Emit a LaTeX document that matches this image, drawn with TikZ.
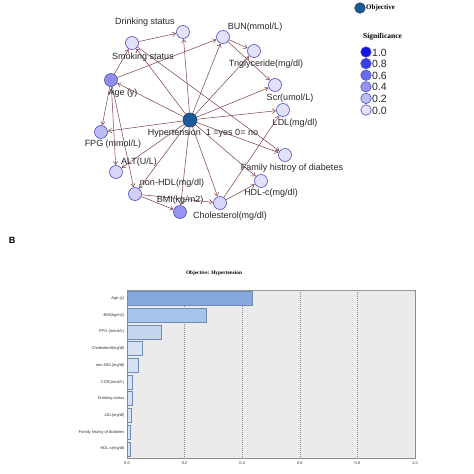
\documentclass[tikz,border=0pt]{standalone}
\usepackage{fontspec}
\setmainfont{Liberation Serif}
\newfontfamily\arialf{Liberation Sans}
\usetikzlibrary{arrows.meta}
\definecolor{edgecol}{HTML}{7B3F45}
\definecolor{nodeline}{HTML}{5050C0}
\definecolor{hubfill}{HTML}{1B5A96}
\definecolor{sigA}{HTML}{1414E6}
\definecolor{sigB}{HTML}{3C3CF0}
\definecolor{sigC}{HTML}{6A6AF0}
\definecolor{sigD}{HTML}{9595F0}
\definecolor{sigE}{HTML}{BCBCF5}
\definecolor{sigF}{HTML}{E2E2FA}
\definecolor{plotbg}{HTML}{EBEBEB}
\definecolor{barline}{HTML}{6F8CB8}
\definecolor{barA}{HTML}{86A9DD}
\definecolor{barB}{HTML}{A8C3EA}
\definecolor{barC}{HTML}{C4D5EF}
\definecolor{barD}{HTML}{D6E1F3}
\tikzset{
  vnode/.style={circle,draw=nodeline,line width=0.6pt,minimum size=13pt,inner sep=0pt},
  hubnode/.style={circle,draw=hubfill!70!black,fill=hubfill,line width=0.6pt,minimum size=14pt,inner sep=0pt},
  lbl/.style={font=\arialf\fontsize{9}{10}\selectfont,inner sep=0pt,text=black!85},
  edge/.style={draw=edgecol,line width=0.5pt,-{Straight Barb[length=3.2pt,width=4.5pt]},shorten >=0.3pt},
  legc/.style={circle,draw=nodeline,line width=0.6pt,minimum size=10.5pt,inner sep=0pt},
  legt/.style={font=\arialf\fontsize{10.5}{11}\selectfont,inner sep=0pt,anchor=west,text=black!85},
  bar/.style={draw=barline,line width=0.6pt},
  blab/.style={font=\arialf\fontsize{4}{4.5}\selectfont,inner sep=0pt,anchor=east,text=black!80},
  tick/.style={font=\arialf\fontsize{4}{4.5}\selectfont,inner sep=0pt,text=black!80},
  grid/.style={draw=black!45,line width=0.4pt,dash pattern=on 1pt off 1pt}
}
\begin{document}
\begin{tikzpicture}[x=1pt,y=-1pt]
\useasboundingbox (0,0) rectangle (474,474);
\fill[white] (0,0) rectangle (474,474);
% ---------- network nodes ----------
\node[hubnode] (hub) at (190,120) {};
\node[vnode,fill=sigF] (drink) at (183,32) {};
\node[vnode,fill=sigF] (smoke) at (132,43) {};
\node[vnode,fill=sigD!85!sigC] (age) at (111,80) {};
\node[vnode,fill=sigF] (bun) at (223,37) {};
\node[vnode,fill=sigF] (trig) at (254,51) {};
\node[vnode,fill=sigF] (scr) at (275,85) {};
\node[vnode,fill=sigF] (ldl) at (283,110) {};
\node[vnode,fill=sigF] (fam) at (285,155) {};
\node[vnode,fill=sigF] (hdl) at (261,181) {};
\node[vnode,fill=sigF!70!sigE] (chol) at (220,203) {};
\node[vnode,fill=sigD] (bmi) at (180,212) {};
\node[vnode,fill=sigF!50!sigE] (nonhdl) at (135,194) {};
\node[vnode,fill=sigF!70!sigE] (alt) at (116,172) {};
\node[vnode,fill=sigE] (fpg) at (101,132) {};
% ---------- edges ----------
\draw[edge] (smoke) -- (drink);
\draw[edge] (hub) -- (drink);
\draw[edge] (hub) -- (smoke);
\draw[edge] (age) -- (smoke);
\draw[edge] (age) -- (bun);
\draw[edge] (smoke) -- (fam);
\draw[edge] (hub) -- (age);
\draw[edge] (age) -- (fpg);
\draw[edge] (age) -- (alt);
\draw[edge] (age) -- (nonhdl);
\draw[edge] (hub) -- (fpg);
\draw[edge] (hub) -- (alt);
\draw[edge] (hub) -- (nonhdl);
\draw[edge] (hub) -- (bmi);
\draw[edge] (hub) -- (chol);
\draw[edge] (hub) -- (hdl);
\draw[edge] (hub) -- (fam);
\draw[edge] (hub) -- (ldl);
\draw[edge] (hub) -- (scr);
\draw[edge] (hub) -- (trig);
\draw[edge] (hub) -- (bun);
\draw[edge] (bun) -- (trig);
\draw[edge] (bun) -- (scr);
\draw[edge] (nonhdl) -- (bmi);
\draw[edge] (nonhdl) -- (chol);
\draw[edge] (chol) -- (hdl);
\draw[edge] (chol) -- (ldl);
% ---------- labels ----------
\node[lbl] (ldrink) at (145,22) {Drinking status};
\node[lbl] (lsmoke) at (143,57) {Smoking status};
\node[lbl] (lage) at (123,93) {Age (y)};
\node[lbl] (lbun) at (255,27) {BUN(mmol/L)};
\node[lbl] (ltrig) at (266,64) {Triglyceride(mg/dl)};
\node[lbl] (lscr) at (290,98) {Scr(umol/L)};
\node[lbl] (lldl) at (295,123) {LDL(mg/dl)};
\node[lbl] (lfam) at (292,168) {Family histroy of diabetes};
\node[lbl] (lhdl) at (271,193) {HDL-c(mg/dl)};
\node[lbl] (lchol) at (230,216) {Cholesterol(mg/dl)};
\node[lbl] (lbmi) at (180,200) {BMI(kg/m2)};
\node[lbl] (lnon) at (172,183) {non-HDL(mg/dl)};
\node[lbl] (lalt) at (139,162) {ALT(U/L)};
\node[lbl] (lfpg) at (113,144) {FPG (mmol/L)};
\node[lbl] (lhub) at (203,133) {Hypertension\ \ 1 =yes 0= no};
% ---------- legend ----------
\node[hubnode,minimum size=10.5pt] (lgobj) at (360,8) {};
\node[font=\bfseries\fontsize{7}{8}\selectfont,anchor=west,inner sep=0pt] (lgobjt) at (366,8) {Objective};
\node[font=\bfseries\fontsize{7.5}{8}\selectfont,anchor=west,inner sep=0pt] (lgsig) at (363,37) {Significance};
\node[legc,fill=sigA] (lg1) at (366,52) {};
\node[legc,fill=sigB] (lg2) at (366,63.6) {};
\node[legc,fill=sigC] (lg3) at (366,75.2) {};
\node[legc,fill=sigD] (lg4) at (366,86.8) {};
\node[legc,fill=sigE] (lg5) at (366,98.4) {};
\node[legc,fill=sigF] (lg6) at (366,110) {};
\node[legt] at (372,52.5) {1.0};
\node[legt] at (372,64.1) {0.8};
\node[legt] at (372,75.7) {0.6};
\node[legt] at (372,87.3) {0.4};
\node[legt] at (372,98.9) {0.2};
\node[legt] at (372,110.5) {0.0};
% ---------- panel B ----------
\node[font=\arialf\bfseries\fontsize{9}{10}\selectfont,inner sep=0pt] (blabel) at (12,240) {B};
\node[font=\bfseries\fontsize{5.3}{6}\selectfont,inner sep=0pt] (btitle) at (214,273) {Objective: Hypertension};
\fill[plotbg] (127,290) rectangle (415,458);
\foreach \v in {0.2,0.4,0.6,0.8} {
  \draw[grid] ({127+288*\v},290) -- ({127+288*\v},458);
}
\draw[black!45,line width=0.5pt] (127,290) rectangle (415,458);
\draw[black!40,line width=1pt] (127,290) -- (415,290);
% bars
\foreach \i/\val/\col/\name in {
  0/0.434/barA/{Age (y)},
  1/0.275/barB/{BMI(kg/m2)},
  2/0.120/barC/{FPG (mmol/L)},
  3/0.052/barD/{Cholesterol(mg/dl)},
  4/0.040/barD/{non-HDL(mg/dl)},
  5/0.019/barD/{CCR(umol/L)},
  6/0.017/barD/{Drinking status},
  7/0.014/barD/{LDL(mg/dl)},
  8/0.010/barD/{Family histroy of diabetes},
  9/0.010/barD/{HDL-c(mg/dl)}} {
  \draw[bar,fill=\col] (127,{291.5+16.7*\i}) rectangle ({127+288*\val},{305.5+16.7*\i});
  \node[blab] at (124.5,{298.5+16.7*\i}) {\name};
}
\foreach \v/\t in {0/0.0,0.2/0.2,0.4/0.4,0.6/0.6,0.8/0.8,1/1.0} {
  \node[tick] at ({127+288*\v},463.5) {\t};
}
\end{tikzpicture}
\end{document}
